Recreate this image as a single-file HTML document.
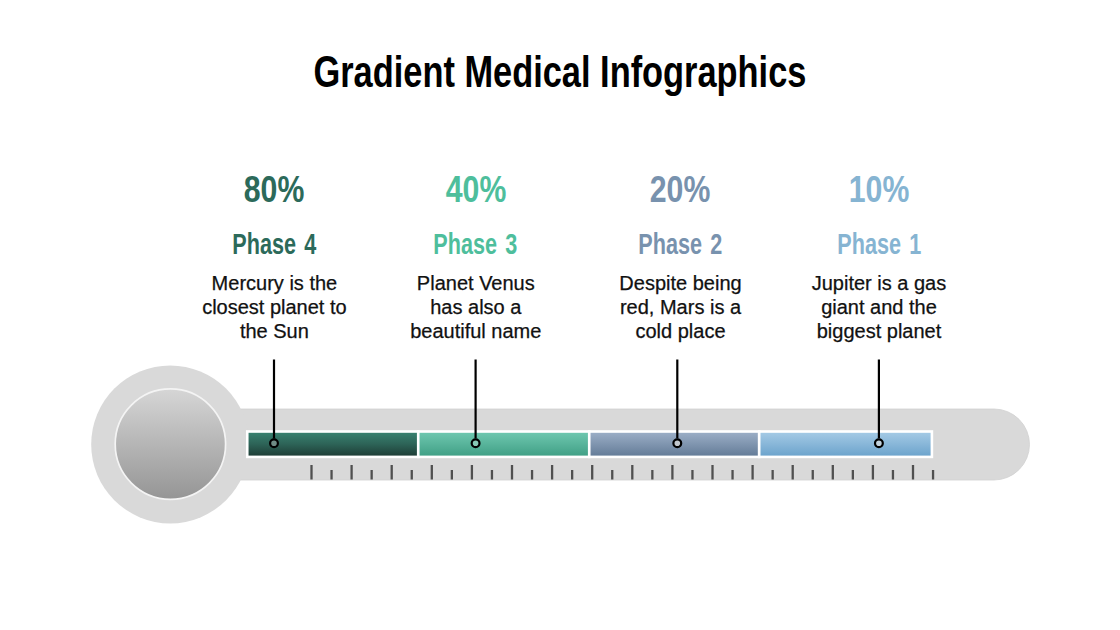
<!DOCTYPE html>
<html>
<head>
<meta charset="utf-8">
<style>
html,body{margin:0;padding:0;background:#fff;}
body{width:1120px;height:630px;position:relative;overflow:hidden;font-family:"Liberation Sans",sans-serif;}
.t{position:absolute;white-space:nowrap;line-height:1;}
.title{left:0;width:1120px;text-align:center;top:49.7px;font-size:43.8px;font-weight:bold;color:#000;}
.title span{display:inline-block;transform:scaleX(0.785);transform-origin:50% 50%;}
.col{position:absolute;width:200px;text-align:center;}
.pct{position:absolute;left:0;width:200px;text-align:center;top:0;font-size:36px;font-weight:bold;line-height:1;}
.pct span{display:inline-block;transform:scaleX(0.84);transform-origin:50% 50%;}
.ph span{display:inline-block;word-spacing:3px;transform:scaleX(0.745);transform-origin:50% 50%;}
.ph{position:absolute;left:0;width:200px;text-align:center;top:57.5px;font-size:29px;font-weight:bold;line-height:1;}
.desc{position:absolute;left:-30px;width:260px;text-align:center;top:99px;font-size:20px;line-height:24.2px;color:#111;-webkit-text-stroke:0.25px #111;}
svg{position:absolute;left:0;top:0;}
</style>
</head>
<body>
<div class="t title"><span>Gradient Medical Infographics</span></div>

<div class="col" style="left:174.4px;top:172px;color:#2c6a5a">
  <div class="pct"><span>80%</span></div>
  <div class="ph"><span>Phase 4</span></div>
  <div class="desc">Mercury is the<br>closest planet to<br>the Sun</div>
</div>
<div class="col" style="left:375.8px;top:172px;color:#4ebe9c">
  <div class="pct"><span>40%</span></div>
  <div class="ph"><span>Phase 3</span></div>
  <div class="desc">Planet Venus<br>has also a<br>beautiful name</div>
</div>
<div class="col" style="left:580.5px;top:172px;color:#7892ae">
  <div class="pct"><span>20%</span></div>
  <div class="ph"><span>Phase 2</span></div>
  <div class="desc">Despite being<br>red, Mars is a<br>cold place</div>
</div>
<div class="col" style="left:779px;top:172px;color:#86b4d2">
  <div class="pct"><span>10%</span></div>
  <div class="ph"><span>Phase 1</span></div>
  <div class="desc">Jupiter is a gas<br>giant and the<br>biggest planet</div>
</div>

<svg width="1120" height="630" viewBox="0 0 1120 630">
  <defs>
    <linearGradient id="bulb" x1="0" y1="0" x2="0" y2="1">
      <stop offset="0" stop-color="#d6d6d6"/>
      <stop offset="1" stop-color="#959595"/>
    </linearGradient>
    <linearGradient id="g1" x1="0" y1="0" x2="0" y2="1">
      <stop offset="0" stop-color="#3a8472"/>
      <stop offset="0.5" stop-color="#2d6357"/>
      <stop offset="1" stop-color="#1c3a33"/>
    </linearGradient>
    <linearGradient id="g2" x1="0" y1="0" x2="0" y2="1">
      <stop offset="0" stop-color="#70c9b1"/>
      <stop offset="1" stop-color="#3f9e84"/>
    </linearGradient>
    <linearGradient id="g3" x1="0" y1="0" x2="0" y2="1">
      <stop offset="0" stop-color="#9db0c8"/>
      <stop offset="1" stop-color="#627a96"/>
    </linearGradient>
    <linearGradient id="g4" x1="0" y1="0" x2="0" y2="1">
      <stop offset="0" stop-color="#a6cbe6"/>
      <stop offset="1" stop-color="#6aa2cb"/>
    </linearGradient>
  </defs>
  <!-- tube -->
  <path d="M200 409 H994 A35.5 35.5 0 0 1 994 480 H200 Z" fill="#d9d9d9" stroke="#d0d0d0" stroke-width="0.8"/>
  <circle cx="170.2" cy="444.4" r="79" fill="#d9d9d9"/>
  <!-- bulb -->
  <circle cx="170.4" cy="444.1" r="55.2" fill="url(#bulb)" stroke="#f4f4f4" stroke-width="1.7"/>
  <!-- bar -->
  <rect x="247.25" y="431.5" width="171" height="25.4" fill="url(#g1)" stroke="#fff" stroke-width="2.6"/>
  <rect x="418.25" y="431.5" width="171" height="25.4" fill="url(#g2)" stroke="#fff" stroke-width="2.6"/>
  <rect x="589.25" y="431.5" width="169.95" height="25.4" fill="url(#g3)" stroke="#fff" stroke-width="2.6"/>
  <rect x="759.2" y="431.5" width="172.7" height="25.4" fill="url(#g4)" stroke="#fff" stroke-width="2.6"/>
  <!-- ticks -->
  <g id="ticks" stroke="#505050" stroke-width="2.3"><line x1="311.50" y1="465" x2="311.50" y2="479.5"/><line x1="331.55" y1="470" x2="331.55" y2="479.5"/><line x1="351.60" y1="465" x2="351.60" y2="479.5"/><line x1="371.65" y1="470" x2="371.65" y2="479.5"/><line x1="391.70" y1="465" x2="391.70" y2="479.5"/><line x1="411.75" y1="470" x2="411.75" y2="479.5"/><line x1="431.80" y1="465" x2="431.80" y2="479.5"/><line x1="451.85" y1="470" x2="451.85" y2="479.5"/><line x1="471.90" y1="465" x2="471.90" y2="479.5"/><line x1="491.95" y1="470" x2="491.95" y2="479.5"/><line x1="512.00" y1="465" x2="512.00" y2="479.5"/><line x1="532.05" y1="470" x2="532.05" y2="479.5"/><line x1="552.10" y1="465" x2="552.10" y2="479.5"/><line x1="572.15" y1="470" x2="572.15" y2="479.5"/><line x1="592.20" y1="465" x2="592.20" y2="479.5"/><line x1="612.25" y1="470" x2="612.25" y2="479.5"/><line x1="632.30" y1="465" x2="632.30" y2="479.5"/><line x1="652.35" y1="470" x2="652.35" y2="479.5"/><line x1="672.40" y1="465" x2="672.40" y2="479.5"/><line x1="692.45" y1="470" x2="692.45" y2="479.5"/><line x1="712.50" y1="465" x2="712.50" y2="479.5"/><line x1="732.55" y1="470" x2="732.55" y2="479.5"/><line x1="752.60" y1="465" x2="752.60" y2="479.5"/><line x1="772.65" y1="470" x2="772.65" y2="479.5"/><line x1="792.70" y1="465" x2="792.70" y2="479.5"/><line x1="812.75" y1="470" x2="812.75" y2="479.5"/><line x1="832.80" y1="465" x2="832.80" y2="479.5"/><line x1="852.85" y1="470" x2="852.85" y2="479.5"/><line x1="872.90" y1="465" x2="872.90" y2="479.5"/><line x1="892.95" y1="470" x2="892.95" y2="479.5"/><line x1="913.00" y1="465" x2="913.00" y2="479.5"/><line x1="933.05" y1="470" x2="933.05" y2="479.5"/></g>
  <!-- pointers -->
  <g stroke="#000" stroke-width="2.2" fill="none">
    <line x1="274" y1="359.5" x2="274" y2="438.5"/>
    <line x1="475.6" y1="359.5" x2="475.6" y2="438.5"/>
    <line x1="677.3" y1="359.5" x2="677.3" y2="438.5"/>
    <line x1="878.9" y1="359.5" x2="878.9" y2="438.5"/>
  </g>
  <g stroke="#000" stroke-width="2.2">
    <circle cx="274" cy="443.2" r="3.9" fill="#6f8c85"/>
    <circle cx="475.6" cy="443.3" r="3.9" fill="#86c9b5"/>
    <circle cx="677.3" cy="443.2" r="3.9" fill="#c2c7cd"/>
    <circle cx="878.9" cy="443.3" r="3.9" fill="#c2d2dd"/>
  </g>
</svg>
</body>
</html>
